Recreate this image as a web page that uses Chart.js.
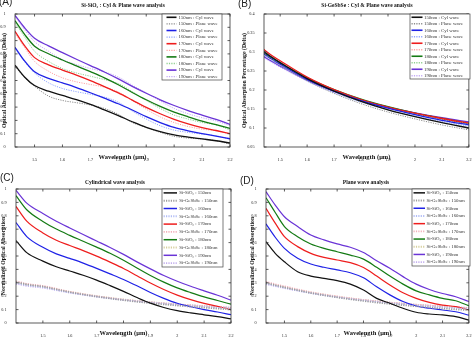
<!DOCTYPE html>
<html>
<head>
<meta charset="utf-8">
<script src="https://cdn.jsdelivr.net/npm/chart.js@4.4.1/dist/chart.umd.min.js"></script>
<style>
  body { margin: 0; background: #fff; }
  #page { position: relative; width: 474px; height: 338px; overflow: hidden; background: #fff; }
  .panel { position: absolute; width: 237px; height: 169px; }
  .tag { position: absolute; font: 10px "Liberation Sans", Arial, sans-serif; color: #222; }
</style>
</head>
<body>
<div id="page">
  <div class="panel" style="left:0;top:0"><canvas id="chartA" width="237" height="169"></canvas></div>
  <div class="panel" style="left:237px;top:0"><canvas id="chartB" width="237" height="169"></canvas></div>
  <div class="panel" style="left:0;top:169px"><canvas id="chartC" width="237" height="169"></canvas></div>
  <div class="panel" style="left:237px;top:169px"><canvas id="chartD" width="237" height="169"></canvas></div>
  <div class="tag" style="left:-1px;top:-4px">(A)</div>
  <div class="tag" style="left:238px;top:-2px">(B)</div>
  <div class="tag" style="left:0;top:172px">(C)</div>
  <div class="tag" style="left:240px;top:175px">(D)</div>
</div>
<script>
var serif = '"Liberation Serif", "Times New Roman", serif';

// wavelength grids (um) for the Si-SiO2 curves; the cylindrical-only plot starts at 1.40
var wavelengths = [1.43, 1.465, 1.5, 1.55, 1.6, 1.65, 1.7, 1.75, 1.8, 1.85, 1.9, 1.95, 2.0, 2.05, 2.1, 2.15, 2.2];
var wavelengthsCyl = [1.40, 1.44, 1.5, 1.55, 1.6, 1.65, 1.7, 1.75, 1.8, 1.85, 1.9, 1.95, 2.0, 2.05, 2.1, 2.15, 2.2];
var sizes = ['150nm', '160nm', '170nm', '180nm', '190nm'];

// Si-SiO2, cylindrical wave
var sio2Cyl150 = [0.615, 0.525, 0.462, 0.42, 0.388, 0.356, 0.32, 0.279, 0.236, 0.19, 0.148, 0.116, 0.092, 0.075, 0.061, 0.047, 0.03];
var sio2Cyl160 = [0.75, 0.645, 0.565, 0.516, 0.482, 0.447, 0.408, 0.367, 0.325, 0.278, 0.228, 0.184, 0.147, 0.121, 0.1, 0.082, 0.062];
var sio2Cyl170 = [0.87, 0.76, 0.672, 0.618, 0.578, 0.54, 0.499, 0.454, 0.407, 0.353, 0.298, 0.25, 0.208, 0.174, 0.146, 0.124, 0.1];
var sio2Cyl180 = [0.95, 0.845, 0.758, 0.701, 0.654, 0.61, 0.566, 0.52, 0.468, 0.41, 0.355, 0.305, 0.262, 0.227, 0.195, 0.168, 0.14];
var sio2Cyl190 = [0.99, 0.895, 0.818, 0.76, 0.709, 0.66, 0.612, 0.564, 0.512, 0.456, 0.404, 0.355, 0.312, 0.274, 0.24, 0.207, 0.17];

// Si-SiO2, plane wave
var sio2Plane150 = [0.607, 0.52, 0.457, 0.383, 0.35, 0.333, 0.316, 0.29, 0.246, 0.184, 0.147, 0.11, 0.08, 0.067, 0.06, 0.047, 0.022];
var sio2Plane160 = [0.74, 0.64, 0.557, 0.483, 0.44, 0.416, 0.396, 0.375, 0.337, 0.27, 0.21, 0.16, 0.127, 0.11, 0.097, 0.084, 0.058];
var sio2Plane170 = [0.855, 0.745, 0.644, 0.57, 0.52, 0.49, 0.47, 0.45, 0.414, 0.35, 0.284, 0.226, 0.184, 0.154, 0.134, 0.122, 0.098];
var sio2Plane180 = [0.935, 0.825, 0.72, 0.644, 0.59, 0.557, 0.532, 0.507, 0.477, 0.416, 0.35, 0.29, 0.24, 0.21, 0.184, 0.166, 0.128];
var sio2Plane190 = [0.98, 0.88, 0.793, 0.72, 0.657, 0.62, 0.59, 0.565, 0.526, 0.465, 0.408, 0.346, 0.29, 0.25, 0.22, 0.196, 0.16];

// wavelength grids (um) for the Si-GeSbSe curves
var geWavelengths = [1.43, 1.465, 1.5, 1.6, 1.7, 1.8, 1.9, 2.0, 2.1, 2.2];
var geWavelengthsCyl = [1.40, 1.44, 1.5, 1.6, 1.7, 1.8, 1.9, 2.0, 2.1, 2.2];

// Si-GeSbSe, cylindrical wave
var geCyl150 = [0.306, 0.288, 0.272, 0.230, 0.197, 0.170, 0.148, 0.130, 0.114, 0.100];
var geCyl160 = [0.300, 0.283, 0.268, 0.228, 0.197, 0.172, 0.152, 0.135, 0.120, 0.108];
var geCyl170 = [0.312, 0.293, 0.277, 0.234, 0.201, 0.175, 0.155, 0.139, 0.125, 0.113];
var geCyl180 = [0.302, 0.286, 0.271, 0.232, 0.201, 0.176, 0.156, 0.139, 0.125, 0.112];
var geCyl190 = [0.292, 0.277, 0.263, 0.226, 0.197, 0.174, 0.155, 0.140, 0.127, 0.116];

// Si-GeSbSe, plane wave
var gePlane150 = [0.300, 0.282, 0.266, 0.224, 0.191, 0.164, 0.142, 0.124, 0.108, 0.095];
var gePlane160 = [0.296, 0.279, 0.264, 0.224, 0.193, 0.168, 0.148, 0.131, 0.117, 0.105];
var gePlane170 = [0.308, 0.290, 0.274, 0.231, 0.199, 0.173, 0.153, 0.137, 0.124, 0.112];
var gePlane180 = [0.298, 0.282, 0.267, 0.228, 0.197, 0.172, 0.152, 0.136, 0.122, 0.110];
var gePlane190 = [0.289, 0.274, 0.260, 0.223, 0.194, 0.171, 0.152, 0.137, 0.124, 0.113];

var xTicks = [1.5, 1.6, 1.7, 1.8, 1.9, 2.0, 2.1, 2.2];
var yTicksUnit = [0, 0.1, 0.2, 0.3, 0.4, 0.5, 0.6, 0.7, 0.8, 0.9, 1];
var yTicksGe = [0.05, 0.1, 0.15, 0.2, 0.25, 0.3, 0.35, 0.4];

var solidColors = ['#111111', '#1f22e6', '#ee1d1d', '#147a14', '#6a34d6'];
var planeColors = ['#8c8c8c', '#8fa4ff', '#ffa3a3', '#8fcf8f', '#c2aaf5'];
var geColors = ['#9d9d9d', '#b2bdf5', '#f2b0bb', '#d6cf9e', '#c4b0ee'];

var sio2Cyl = [sio2Cyl150, sio2Cyl160, sio2Cyl170, sio2Cyl180, sio2Cyl190];
var sio2Plane = [sio2Plane150, sio2Plane160, sio2Plane170, sio2Plane180, sio2Plane190];
var geCyl = [geCyl150, geCyl160, geCyl170, geCyl180, geCyl190];
var gePlane = [gePlane150, gePlane160, gePlane170, gePlane180, gePlane190];

function series(label, xs, ys, color, dotted, width) {
  return {
    label: label,
    data: xs.map(function (x, i) { return { x: x, y: ys[i] }; }),
    borderColor: color,
    borderWidth: width,
    borderDash: dotted ? [1.2, 1.2] : []
  };
}

function fmt(v) {
  return String(Number(v.toFixed(2)));
}

// box, inward ticks on all four sides, title and the boxed legend
function frame(p) {
  return {
    id: 'frame',
    afterDraw: function (chart) {
      var ctx = chart.ctx, a = chart.chartArea;
      var sx = chart.scales.x, sy = chart.scales.y;
      ctx.save();
      ctx.strokeStyle = '#333';
      ctx.lineWidth = 0.8;
      ctx.strokeRect(a.left, a.top, a.right - a.left, a.bottom - a.top);
      ctx.beginPath();
      sx.ticks.forEach(function (t) {
        var px = sx.getPixelForValue(t.value);
        ctx.moveTo(px, a.bottom); ctx.lineTo(px, a.bottom - 2.5);
        ctx.moveTo(px, a.top); ctx.lineTo(px, a.top + 2.5);
      });
      sy.ticks.forEach(function (t) {
        var py = sy.getPixelForValue(t.value);
        ctx.moveTo(a.left, py); ctx.lineTo(a.left + 2.5, py);
        ctx.moveTo(a.right, py); ctx.lineTo(a.right - 2.5, py);
      });
      ctx.stroke();

      ctx.fillStyle = '#111';
      ctx.font = 'bold 5.5px ' + serif;
      ctx.textAlign = 'center';
      ctx.textBaseline = 'middle';
      ctx.fillText(p.title, p.titleX, p.titleY);

      var b = p.legend;
      ctx.fillStyle = '#fff';
      ctx.fillRect(b.x, b.y, b.w, b.h);
      ctx.strokeStyle = '#444';
      ctx.lineWidth = 0.7;
      ctx.strokeRect(b.x, b.y, b.w, b.h);
      var sets = chart.data.datasets;
      var rowH = b.h / sets.length;
      ctx.font = '4.8px ' + serif;
      ctx.textAlign = 'left';
      sets.forEach(function (ds, i) {
        var cy = b.y + rowH * (i + 0.5);
        ctx.strokeStyle = ds.borderColor;
        ctx.lineWidth = ds.borderWidth + 0.3;
        ctx.setLineDash(ds.borderDash);
        ctx.beginPath();
        ctx.moveTo(b.x + b.l0, cy);
        ctx.lineTo(b.x + b.l1, cy);
        ctx.stroke();
        ctx.setLineDash([]);
        ctx.fillStyle = '#333';
        ctx.fillText(ds.label, b.x + b.tx, cy);
      });
      ctx.restore();
    }
  };
}

function makePanel(id, p) {
  return new Chart(document.getElementById(id), {
    type: 'line',
    data: { datasets: p.datasets },
    options: {
      responsive: false,
      animation: false,
      layout: { padding: { top: p.pad[0], right: p.pad[1], bottom: p.pad[2], left: 0 } },
      elements: {
        point: { radius: 0 },
        line: { cubicInterpolationMode: 'monotone', fill: false }
      },
      plugins: {
        legend: { display: false },
        tooltip: { enabled: false },
        title: { display: false }
      },
      scales: {
        x: {
          type: 'linear',
          min: p.xMin,
          max: 2.2,
          grid: { display: false },
          border: { display: false },
          afterBuildTicks: function (s) { s.ticks = xTicks.map(function (v) { return { value: v }; }); },
          afterFit: function (s) { s.height = 14; },
          ticks: {
            font: { family: serif, size: 4.2 }, color: '#222', padding: 2.5,
            maxRotation: 0, autoSkip: false,
            callback: function (v) { return fmt(v); }
          },
          title: {
            display: true, text: 'Wavelength (μm)', color: '#111', padding: 0,
            font: { family: serif, size: 6.5, weight: 'bold' }
          }
        },
        y: {
          min: p.yTicks[0],
          max: p.yTicks[p.yTicks.length - 1],
          grid: { display: false },
          border: { display: false },
          afterBuildTicks: function (s) { s.ticks = p.yTicks.map(function (v) { return { value: v }; }); },
          afterFit: function (s) { s.width = p.yWidth; },
          ticks: {
            font: { family: serif, size: 4.2 }, color: '#222', padding: 1.5,
            autoSkip: false,
            callback: function (v) { return fmt(v); }
          },
          title: {
            display: true, text: p.yTitle, color: '#111', padding: { top: p.yTitlePad, bottom: 0 },
            font: { family: serif, size: 5.8, weight: 'bold' }
          }
        }
      }
    },
    plugins: [frame(p)]
  });
}

var dsA = [], dsB = [], dsC = [], dsD = [];
for (var i = 0; i < 5; i++) {
  dsA.push(series(sizes[i] + ' : Cyl wave', wavelengths, sio2Cyl[i], solidColors[i], false, 1.3));
  dsA.push(series(sizes[i] + ' : Plane wave', wavelengths, sio2Plane[i], planeColors[i], true, 1));
  dsB.push(series(sizes[i] + ' : Cyl wave', geWavelengths, geCyl[i], solidColors[i], false, 1.3));
  dsB.push(series(sizes[i] + ' : Plane wave', geWavelengths, gePlane[i], planeColors[i], true, 1));
  dsC.push(series('Si-SiO₂ : ' + sizes[i], wavelengthsCyl, sio2Cyl[i], solidColors[i], false, 1.2));
  dsC.push(series('Si-GeSbSe : ' + sizes[i], geWavelengthsCyl, geCyl[i], geColors[i], true, 1.6));
  dsD.push(series('Si-SiO₂ : ' + sizes[i], wavelengths, sio2Plane[i], solidColors[i], false, 1.2));
  dsD.push(series('Si-GeSbSe : ' + sizes[i], geWavelengths, gePlane[i], geColors[i], true, 1.6));
}

makePanel('chartA', {
  datasets: dsA, xMin: 1.43, yTicks: yTicksUnit, pad: [14, 7, 8], yWidth: 15, yTitlePad: 1,
  yTitle: 'Optical Absorption Percentage (Delta)',
  title: 'Si-SiO₂ : Cyl & Plane wave analysis', titleX: 123, titleY: 6,
  legend: { x: 162, y: 14, w: 60, h: 66, l0: 4.5, l1: 14.5, tx: 16.5 }
});
makePanel('chartB', {
  datasets: dsB, xMin: 1.44, yTicks: yTicksGe, pad: [14, 4, 8], yWidth: 27, yTitlePad: 4.5,
  yTitle: 'Optical Absorption Percentage (Delta)',
  title: 'Si-GeSbSe : Cyl & Plane wave analysis', titleX: 130, titleY: 6,
  legend: { x: 173, y: 14, w: 60, h: 65, l0: 1.5, l1: 12.5, tx: 14 }
});
makePanel('chartC', {
  datasets: dsC, xMin: 1.40, yTicks: yTicksUnit, pad: [20, 6, 1], yWidth: 16, yTitlePad: 0.5,
  yTitle: 'Normalized Optical Absorption',
  title: 'Cylindrical wave analysis', titleX: 115, titleY: 14,
  legend: { x: 162, y: 20, w: 61, h: 78, l0: 1.6, l1: 15, tx: 17.3 }
});
makePanel('chartD', {
  datasets: dsD, xMin: 1.43, yTicks: yTicksUnit, pad: [20, 4, 1], yWidth: 29, yTitlePad: 12,
  yTitle: 'Normalized Optical Absorption',
  title: 'Plane wave analysis', titleX: 129, titleY: 14,
  legend: { x: 175, y: 20, w: 58, h: 77, l0: 1.5, l1: 13, tx: 14.5 }
});
</script>
</body>
</html>
